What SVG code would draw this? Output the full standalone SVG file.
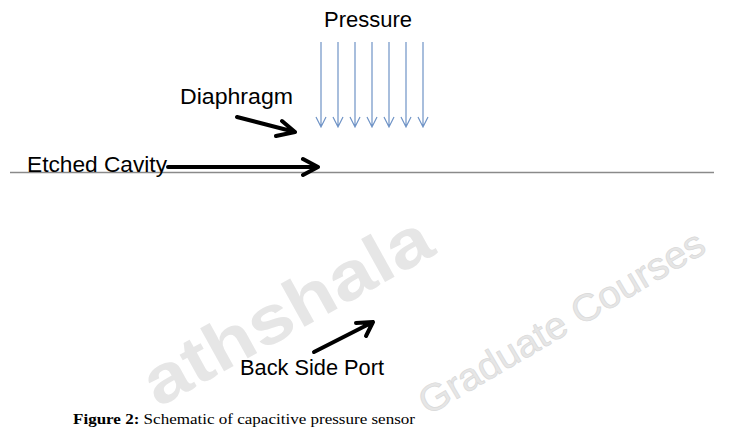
<svg xmlns="http://www.w3.org/2000/svg" width="731" height="428" viewBox="0 0 731 428">
<style>
.lbl{font-family:"Liberation Sans",Arial,sans-serif;font-size:22px;fill:#000}
.cap{font-family:"Liberation Serif","Times New Roman",serif;font-size:14px;fill:#000}
.wm{font-family:"Liberation Sans",Arial,sans-serif;fill:#e6e6e6}
.blk{stroke:#000;stroke-width:4;fill:none;stroke-linecap:round;stroke-linejoin:round}
.prs{stroke:#6f93c6;stroke-width:1.2;fill:none}
</style>
<rect width="731" height="428" fill="#fff"/>
<g id="watermark">
<text class="wm" x="158" y="408" font-size="68" font-weight="bold" textLength="320" lengthAdjust="spacingAndGlyphs" transform="rotate(-29 158 408)">athshala</text>
<text class="wm" x="428" y="416" font-size="38" textLength="325" lengthAdjust="spacingAndGlyphs" fill="#f1f1f1" stroke="#d9d9d9" stroke-width="0.7" transform="rotate(-30.5 428 416)">Graduate Courses</text>
</g>
<g id="base-line">
<line x1="10" y1="172.5" x2="714" y2="172.5" stroke="#8a8a8a" stroke-width="1.6"/>
</g>
<g id="pressure">
<text class="lbl" x="324" y="27" textLength="88" lengthAdjust="spacingAndGlyphs">Pressure</text>
</g>
<g id="diaphragm">
<text class="lbl" x="180" y="104" textLength="113" lengthAdjust="spacingAndGlyphs">Diaphragm</text>
</g>
<g id="etched-cavity">
<text class="lbl" x="27" y="172" textLength="140" lengthAdjust="spacingAndGlyphs">Etched Cavity</text>
</g>
<g id="back-side-port">
<text class="lbl" x="240" y="375" textLength="144" lengthAdjust="spacingAndGlyphs">Back Side Port</text>
</g>
<g id="caption">
<text class="cap" x="73" y="424" textLength="342" lengthAdjust="spacingAndGlyphs"><tspan font-weight="bold">Figure 2:</tspan> Schematic of capacitive pressure sensor</text>
</g>
<g id="connectors">
<g class="prs">
<path d="M321 42V127M316 117L321 127L326 117"/>
<path d="M338 42V127M333 117L338 127L343 117"/>
<path d="M355 42V127M350 117L355 127L360 117"/>
<path d="M372 42V127M367 117L372 127L377 117"/>
<path d="M389 42V127M384 117L389 127L394 117"/>
<path d="M406 42V127M401 117L406 127L411 117"/>
<path d="M423 42V127M418 117L423 127L428 117"/>
</g>
<path class="blk" d="M237 117L295 132M282 121L295 132L276 136"/>
<path class="blk" d="M168 167H318M303 159L318 167L303 175"/>
<path class="blk" stroke-width="3.5" d="M314 352L373 322M356 323L373 322L366 336"/>
</g>
</svg>
